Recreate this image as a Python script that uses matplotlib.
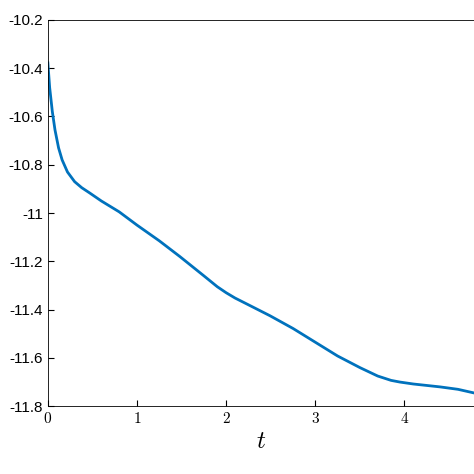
import numpy as np
import matplotlib
matplotlib.use("Agg")
import matplotlib.pyplot as plt

plt.rcParams['mathtext.fontset'] = 'cm'

# values
t = [0.0, 0.02, 0.05, 0.08, 0.12, 0.16, 0.22, 0.3, 0.38, 0.47, 0.6, 0.8, 1.0,
     1.25, 1.48, 1.75, 1.9, 2.0, 2.1, 2.25, 2.49, 2.75, 3.0, 3.25, 3.5, 3.7,
     3.85, 3.95, 4.1, 4.2, 4.4, 4.6, 4.78]
v = [-10.378, -10.48, -10.58, -10.656, -10.73, -10.78, -10.83, -10.87, -10.895,
     -10.917, -10.95, -10.995, -11.05, -11.115, -11.18, -11.26, -11.305, -11.33,
     -11.352, -11.38, -11.425, -11.478, -11.535, -11.592, -11.64, -11.675,
     -11.693, -11.70, -11.708, -11.712, -11.72, -11.73, -11.745]
yticks = [-10.2, -10.4, -10.6, -10.8, -11.0, -11.2, -11.4, -11.6, -11.8]
ylabels = ['-10.2', '-10.4', '-10.6', '-10.8', '-11', '-11.2', '-11.4', '-11.6', '-11.8']
xticks = [0, 1, 2, 3, 4]

fig = plt.figure(figsize=(4.74, 4.74), dpi=100)
ax = fig.add_axes([0.101, 0.143, 0.899, 0.815])
ax.plot(t, v, color='#0072BD', lw=2)
ax.set_xlim(0, 4.78)
ax.set_ylim(-11.8, -10.2)
ax.set_yticks(yticks)
ax.set_yticklabels(ylabels, family='Liberation Sans')
ax.set_xticks(xticks)
ax.set_xticklabels(['$%d$' % x for x in xticks])
ax.tick_params(direction='in', labelsize=11, length=4, top=False, right=False)
ax.set_xlabel('$t$', fontsize=18, labelpad=2)
for s in ax.spines.values():
    s.set_linewidth(0.6)
fig.savefig('out.png', dpi=100)
